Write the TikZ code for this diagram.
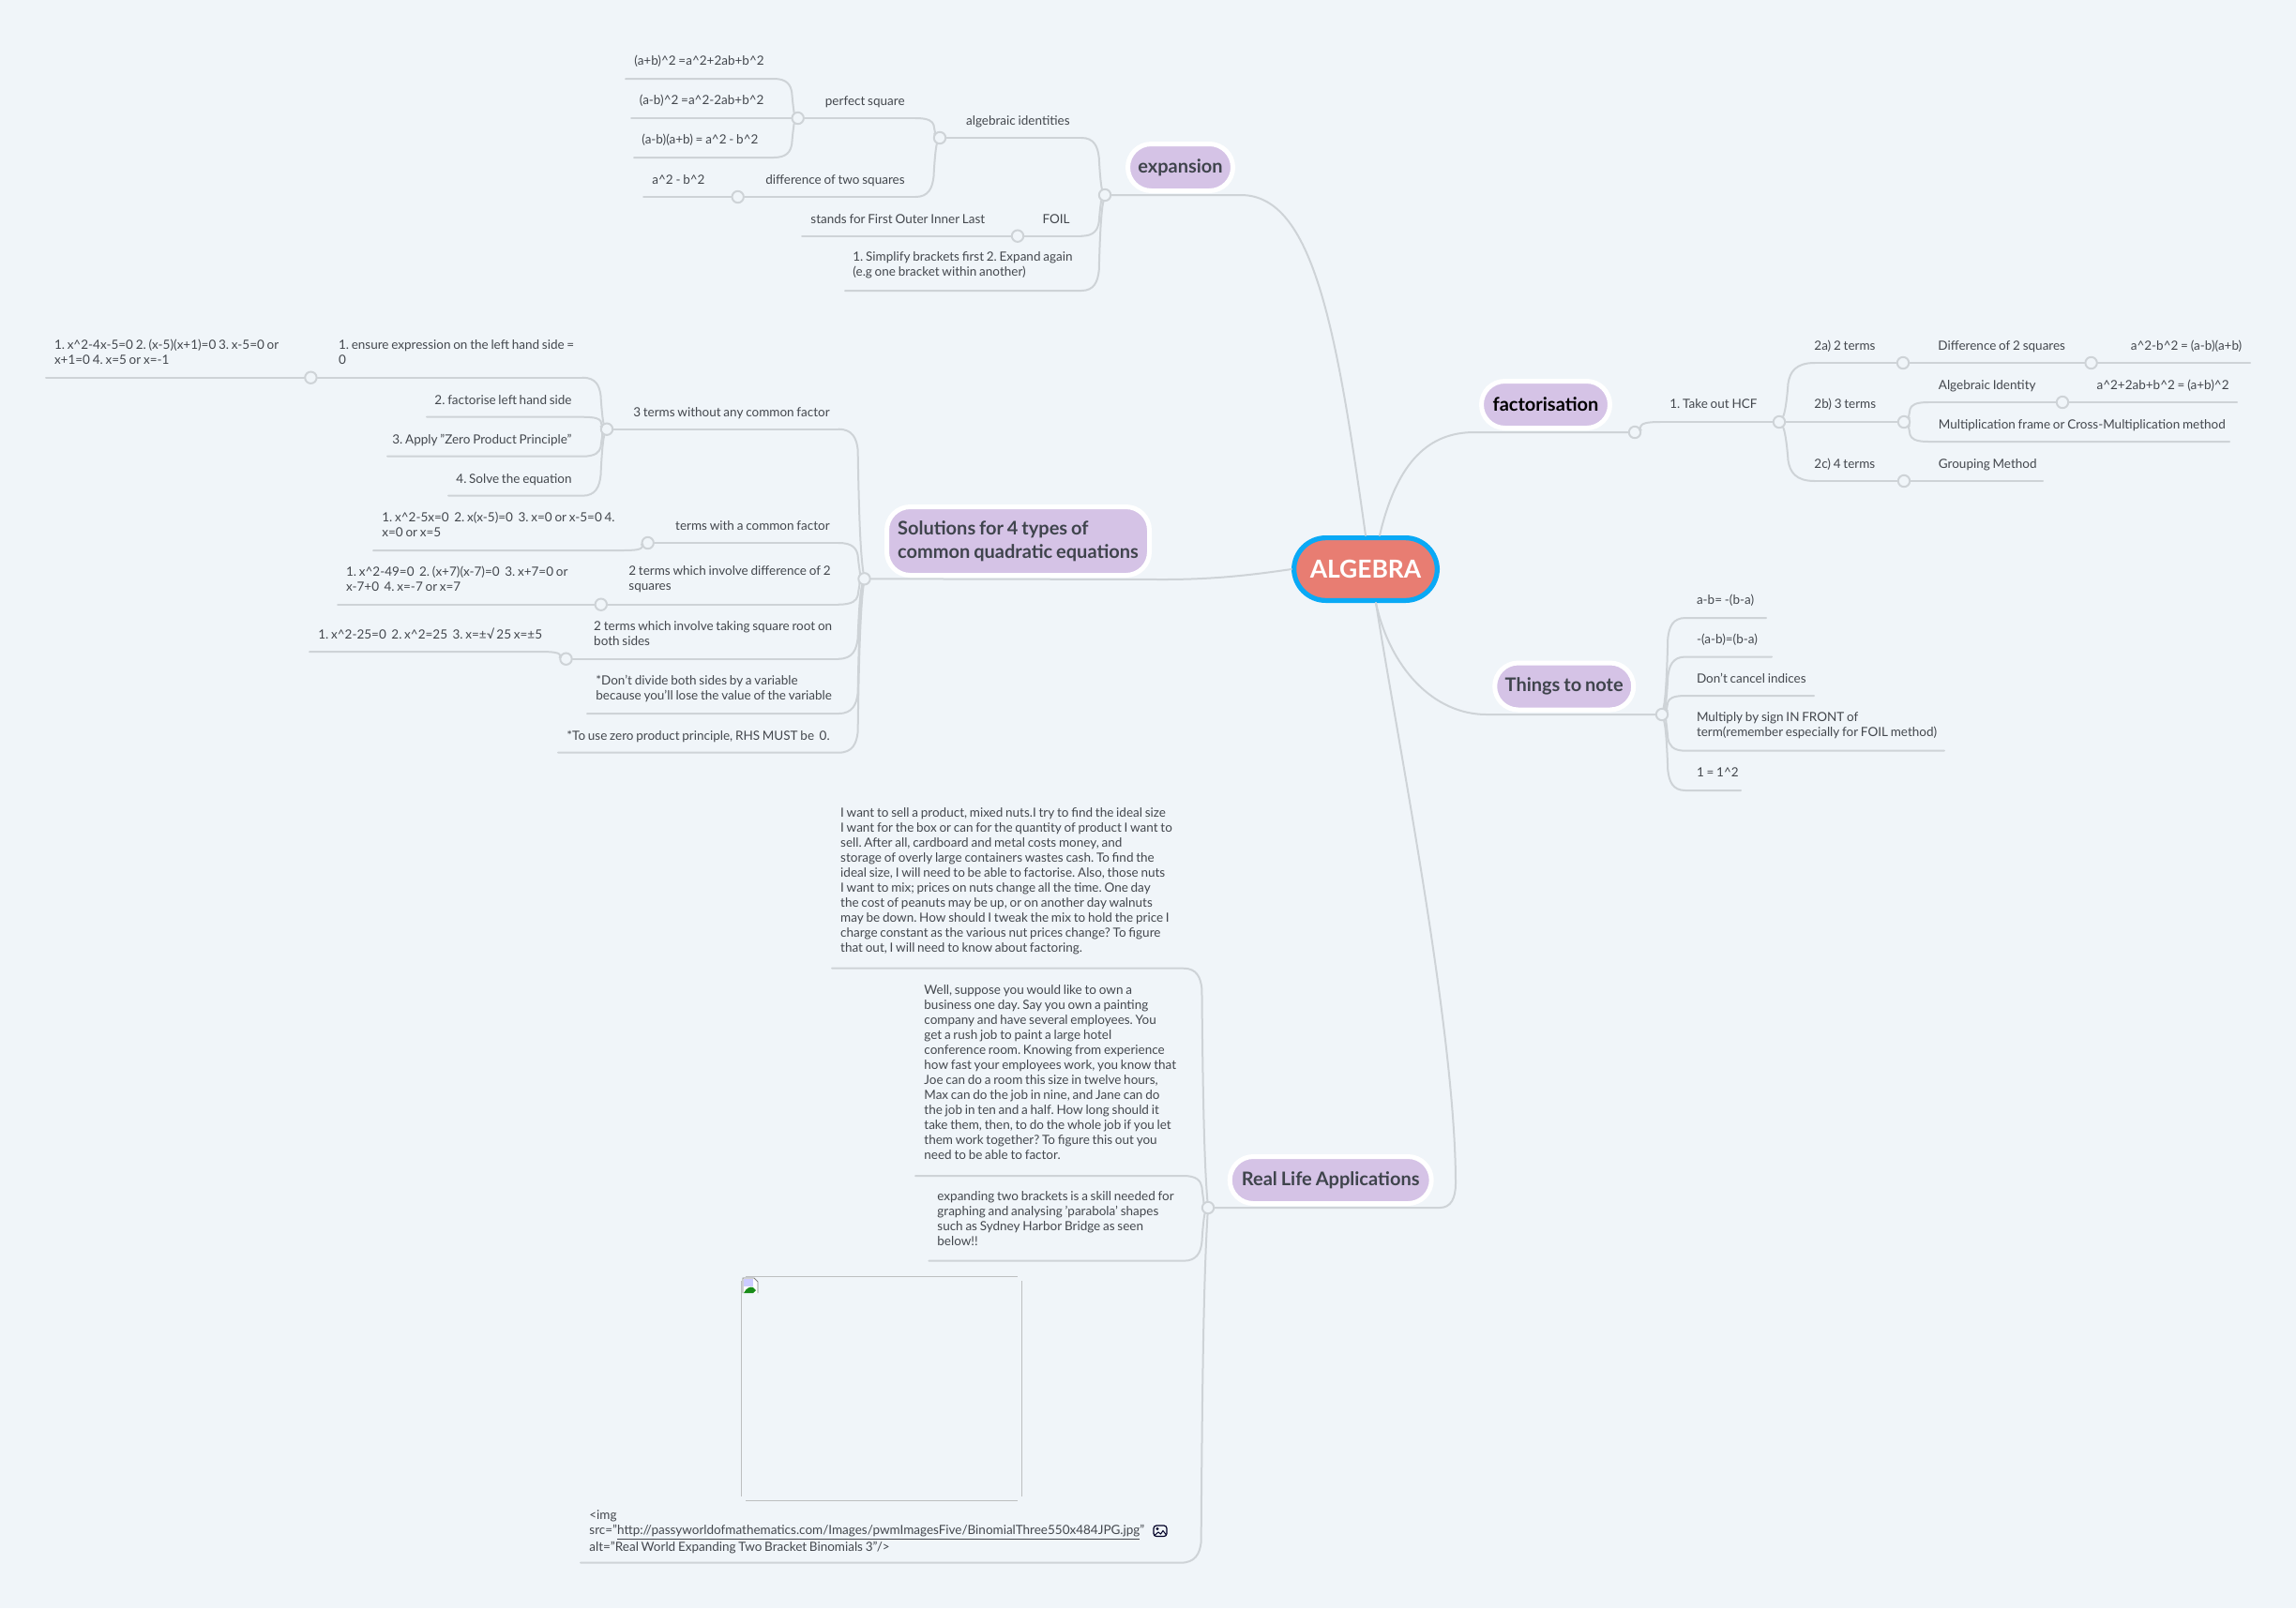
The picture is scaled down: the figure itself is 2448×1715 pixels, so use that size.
\documentclass[tikz,border=0pt]{standalone}
\usepackage{fontspec}
\setmainfont{Lato}[WordSpace=0.8]
\AtBeginDocument{\frenchspacing}
\definecolor{bgc}{HTML}{F0F5F9}
\definecolor{linec}{HTML}{CED3D7}
\definecolor{txtc}{HTML}{43474D}
\definecolor{headc}{HTML}{3F444C}
\definecolor{purp}{HTML}{D5C3E6}
\definecolor{rootc}{HTML}{E87D72}
\definecolor{rootb}{HTML}{0AA9F5}
\definecolor{framec}{HTML}{BDBFC0}
\tikzset{
  conn/.style={draw=linec,line width=1pt,line cap=round},
  hub/.style={circle,draw=linec,fill=bgc,line width=1pt,inner sep=0pt,minimum size=6.2pt},
  txt/.style={inner sep=0pt,text=txtc,font=\fontsize{6.75}{8}\selectfont,yshift=3.4pt,execute at begin node=\strut},
  tl/.style={txt,anchor=north west,align=left},
  tr/.style={txt,anchor=north east,align=right},
  topic/.style={rectangle,rounded corners=12.5pt,draw=white,fill=purp,line width=2.5pt,inner sep=0pt,text=headc,font=\fontsize{10}{12.3}\selectfont\bfseries},
  rootn/.style={rectangle,rounded corners=17pt,draw=rootb,fill=rootc,line width=2.6pt,inner sep=0pt,text=white,font=\fontsize{13.2}{16}\selectfont\bfseries}
}
% \bra{free end}{x}{y}{x of bend}{hub}{hub x}{hub y}
\newcommand{\bra}[7]{%
  \coordinate (#1) at (#2,#3);
  \pgfmathsetmacro{\dxx}{#6-#4}
  \pgfmathsetmacro{\dyy}{#7-#3}
  \pgfmathsetmacro{\rr}{(\dyy>0?1:-1)*min(22,abs(\dyy)*.35)}
  \draw[conn] (#1) -- (#4,#3) .. controls ({#4+.55*\dxx},#3) and ({#4+.70*\dxx},{#3+.45*\rr}) .. ({#4+.75*\dxx},{#3+\rr}) .. controls ({#4+.79*\dxx},{#3+\rr+.5*(\dyy-\rr)}) and ({#4+.85*\dxx},{#3+\rr+.8*(\dyy-\rr)}) .. (#5);
}
% \leaf{free end}{x}{y}{hub}
\newcommand{\leaf}[4]{\coordinate (#1) at (#2,#3); \draw[conn] (#1) -- (#4);}
\begin{document}
\begin{tikzpicture}[x=0.5pt,y=-0.5pt]
\useasboundingbox (0,0) rectangle (2448,1715);
\fill[bgc] (0,0) rectangle (2448,1715);

% hubs
\node[hub] (hexp) at (1178,208) {};
\node[hub] (halg) at (1002,147) {};
\node[hub] (hper) at (850.7,126) {};
\node[hub] (hdif) at (786.7,210) {};
\node[hub] (hfoi) at (1085,251.7) {};
\node[hub] (hfac) at (1743,461) {};
\node[hub] (hhcf) at (1897,450) {};
\node[hub] (h2a) at (2029,387) {};
\node[hub] (hds) at (2229.6,387) {};
\node[hub] (h2b) at (2030,450) {};
\node[hub] (hai) at (2199,429) {};
\node[hub] (h2c) at (2030,513) {};
\node[hub] (hthi) at (1772,762) {};
\node[hub] (hsol) at (921.5,617.3) {};
\node[hub] (h3t) at (647,457.7) {};
\node[hub] (hens) at (331.4,402.7) {};
\node[hub] (hcom) at (690.7,579) {};
\node[hub] (hd2) at (640.8,644.7) {};
\node[hub] (hsq) at (603.5,702.7) {};
\node[hub] (hrea) at (1288,1288) {};

\node[rootn,minimum width=76.4pt,minimum height=33.4pt] (root) at (1456,607) {ALGEBRA};

% root branches
\draw[conn] (hexp) -- (1323,208) .. controls (1400,208) and (1425,350) .. (root.north);
\draw[conn] (hfac) -- (1572,461) .. controls (1525,461) and (1490,490) .. ([xshift=7.5pt]root.north);
\draw[conn] (hthi) -- (1585,762) .. controls (1528,762) and (1482,712) .. ([xshift=5.5pt]root.south);
\draw[conn] (hsol) -- (1240,618) .. controls (1290,618) and (1330,614) .. (root.west);
\draw[conn] (hrea) -- (1535,1288) .. controls (1547,1288) and (1552,1278) .. (1552,1262) .. controls (1552,1100) and (1490,790) .. ([xshift=5.5pt]root.south);

% topics
\node[topic,minimum width=56pt,minimum height=25pt] (nexp) at (1258.5,178.5) {expansion};
\node[topic,minimum width=68.5pt,minimum height=25pt,text=black] (nfac) at (1648,431.5) {factorisation};
\node[topic,minimum width=74pt,minimum height=25pt] (nthi) at (1667.7,732) {Things to note};
\node[topic,minimum width=107.5pt,minimum height=25pt] (nrea) at (1418.7,1258.5) {Real Life Applications};
\node[topic,minimum width=140pt,minimum height=36.5pt,align=left] (nsol) at (1085.5,577) {Solutions for 4 types of\\common quadratic equations};

% expansion branches
\bra{e1}{667}{84}{825}{hper}{850.7}{126}
\leaf{e2}{673}{126}{hper}
\bra{e3}{676}{168}{825}{hper}{850.7}{126}
\bra{e4}{976}{126}{976}{halg}{1002}{147}
\draw[conn] (hper) -- (e4);
\leaf{e5}{686}{210}{hdif}
\bra{e6}{976}{210}{976}{halg}{1002}{147}
\draw[conn] (hdif) -- (e6);
\bra{e7}{1153}{147}{1153}{hexp}{1178}{208}
\draw[conn] (halg) -- (e7);
\leaf{e8}{855}{251.7}{hfoi}
\bra{e9}{1153}{251.7}{1153}{hexp}{1178}{208}
\draw[conn] (hfoi) -- (e9);
\bra{e10}{901}{310}{1153}{hexp}{1178}{208}

\node[tl] (t1) at (676,65) {(a+b)\^{}2 =a\^{}2+2ab+b\^{}2};
\node[tl] (t2) at (681.5,107) {(a-b)\^{}2 =a\^{}2-2ab+b\^{}2};
\node[tl] (t3) at (684,149) {(a-b)(a+b) = a\^{}2 - b\^{}2};
\node[tr] (t4) at (965,107.7) {perfect square};
\node[tr] (t5) at (1141,128.7) {algebraic identities};
\node[tl] (t6) at (695,191.3) {a\^{}2 - b\^{}2};
\node[tr] (t7) at (965,191.3) {difference of two squares};
\node[tl] (t8) at (864,233.3) {stands for First Outer Inner Last};
\node[tr] (t9) at (1141,233.3) {FOIL};
\node[tl] (t10) at (909,275.3) {1. Simplify brackets first 2. Expand again\\(e.g one bracket within another)};

% factorisation branches
\bra{f1}{1770}{450}{1770}{hfac}{1743}{461}
\draw[conn] (hhcf) -- (f1);
\bra{f2}{1935}{387}{1935}{hhcf}{1897}{450}
\draw[conn] (h2a) -- (f2);
\draw[conn] (h2a) -- (hds);
\leaf{f3}{2399}{387}{hds}
\draw[conn] (hhcf) -- (h2b);
\bra{f4}{2056}{429}{2056}{h2b}{2030}{450}
\draw[conn] (hai) -- (f4);
\leaf{f5}{2385}{429}{hai}
\bra{f6}{2377}{471}{2056}{h2b}{2030}{450}
\bra{f7}{1935}{513}{1935}{hhcf}{1897}{450}
\draw[conn] (h2c) -- (f7);
\leaf{f8}{2178}{513}{h2c}

\node[tl] (t11) at (1780,431) {1. Take out HCF};
\node[tl] (t12) at (1934,368.6) {2a) 2 terms};
\node[tl] (t13) at (2066,368.6) {Difference of 2 squares};
\node[tr] (t14) at (2390.7,368.6) {a\^{}2-b\^{}2 = (a-b)(a+b)};
\node[tl] (t15) at (1934,431) {2b) 3 terms};
\node[tl] (t16) at (2066.5,410.6) {Algebraic Identity};
\node[tr] (t17) at (2377,410.6) {a\^{}2+2ab+b\^{}2 = (a+b)\^{}2};
\node[tl] (t18) at (2066.5,452.6) {Multiplication frame or Cross-Multiplication method};
\node[tl] (t19) at (1934,494.6) {2c) 4 terms};
\node[tl] (t20) at (2066.5,494.6) {Grouping Method};

% things to note
\bra{n1}{1883}{659}{1797}{hthi}{1772}{762}
\bra{n2}{1889}{700.5}{1797}{hthi}{1772}{762}
\bra{n3}{1934}{742}{1797}{hthi}{1772}{762}
\bra{n4}{2073}{800.7}{1797}{hthi}{1772}{762}
\bra{n5}{1856}{843}{1797}{hthi}{1772}{762}

\node[tl] (t21) at (1808.6,640) {a-b= -(b-a)};
\node[tl] (t22) at (1808.6,682) {-(a-b)=(b-a)};
\node[tl] (t23) at (1808.6,724) {Don't cancel indices};
\node[tl] (t24) at (1808.6,766) {Multiply by sign IN FRONT of\\term(remember especially for FOIL method)};
\node[tl] (t25) at (1808.6,824) {1 = 1\^{}2};

% solutions
\leaf{s0}{49}{402.7}{hens}
\bra{s1}{621}{402.7}{621}{h3t}{647}{457.7}
\draw[conn] (hens) -- (s1);
\bra{s2}{455}{444.7}{621}{h3t}{647}{457.7}
\bra{s3}{413}{486.7}{621}{h3t}{647}{457.7}
\bra{s4}{478}{528.7}{621}{h3t}{647}{457.7}
\bra{s5}{894}{457.7}{894}{hsol}{921.5}{617.3}
\draw[conn] (h3t) -- (s5);
\bra{s6}{398}{587}{664}{hcom}{690.7}{579}
\bra{s7}{894}{579}{894}{hsol}{921.5}{617.3}
\draw[conn] (hcom) -- (s7);
\leaf{s8}{360}{644.7}{hd2}
\bra{s9}{894}{644.7}{894}{hsol}{921.5}{617.3}
\draw[conn] (hd2) -- (s9);
\bra{s10}{330}{695}{575}{hsq}{603.5}{702.7}
\bra{s11}{894}{702.7}{894}{hsol}{921.5}{617.3}
\draw[conn] (hsq) -- (s11);
\bra{s12}{626}{761}{894}{hsol}{921.5}{617.3}
\bra{s13}{595}{802.7}{894}{hsol}{921.5}{617.3}

\node[tl] (t26) at (57.6,368.7) {1. x\^{}2-4x-5=0 2. (x-5)(x+1)=0 3. x-5=0 or\\x+1=0 4. x=5 or x=-1};
\node[tl] (t27) at (360.6,368.7) {1. ensure expression on the left hand side =\\0};
\node[tr] (t28) at (610,426.3) {2. factorise left hand side};
\node[tr] (t29) at (610,468.3) {3. Apply "Zero Product Principle"};
\node[tr] (t30) at (610,510.3) {4. Solve the equation};
\node[tr] (t31) at (885,439.7) {3 terms without any common factor};
\node[tl] (t32) at (407,552.3) {1. x\^{}2-5x=0\ \ 2. x(x-5)=0\ \ 3. x=0 or x-5=0 4.\\x=0 or x=5};
\node[tr] (t33) at (885,560.7) {terms with a common factor};
\node[tl] (t34) at (368.7,610.3) {1. x\^{}2-49=0\ \ 2. (x+7)(x-7)=0\ \ 3. x+7=0 or\\x-7+0\ \ 4. x=-7 or x=7};
\node[tl] (t35) at (670,610.3) {2 terms which involve difference of 2\\squares};
\node[tl] (t36) at (339,676.7) {1. x\^{}2-25=0\ \ 2. x\^{}2=25\ \ 3. x=±√\,25 x=±5};
\node[tl] (t37) at (632.8,668.7) {2 terms which involve taking square root on\\both sides};
\node[tl] (t38) at (635,726.7) {*Don't divide both sides by a variable\\because you'll lose the value of the variable};
\node[tr] (t39) at (885,784.7) {*To use zero product principle, RHS MUST be\ \ 0.};

% real life
\bra{r1}{887}{1032.7}{1261.7}{hrea}{1288}{1288}
\bra{r2}{976}{1254}{1261.7}{hrea}{1288}{1288}
\bra{r3}{990.4}{1344.7}{1261.7}{hrea}{1288}{1288}
\bra{r4}{619}{1666.7}{1258.5}{hrea}{1288}{1288}

\node[tl] (t40) at (895.8,868.3) {I want to sell a product, mixed nuts.I try to find the ideal size\\I want for the box or can for the quantity of product I want to\\sell. After all, cardboard and metal costs money, and\\storage of overly large containers wastes cash. To find the\\ideal size, I will need to be able to factorise. Also, those nuts\\I want to mix; prices on nuts change all the time. One day\\the cost of peanuts may be up, or on another day walnuts\\may be down. How should I tweak the mix to hold the price I\\charge constant as the various nut prices change? To figure\\that out, I will need to know about factoring.};
\node[tl] (t41) at (985,1056.7) {Well, suppose you would like to own a\\business one day. Say you own a painting\\company and have several employees. You\\get a rush job to paint a large hotel\\conference room. Knowing from experience\\how fast your employees work, you know that\\Joe can do a room this size in twelve hours,\\Max can do the job in nine, and Jane can do\\the job in ten and a half. How long should it\\take them, then, to do the whole job if you let\\them work together? To figure this out you\\need to be able to factor.};
\node[tl] (t42) at (999,1277.3) {expanding two brackets is a skill needed for\\graphing and analysing 'parabola' shapes\\such as Sydney Harbor Bridge as seen\\below!!};
\node[tl] (t43) at (628,1616.7) {<img\\src="\underline{http://passyworldofmathematics.com/Images/pwmImagesFive/BinomialThree550x484JPG.jpg}"\\alt="Real World Expanding Two Bracket Binomials 3"/>};

% empty image frame
\draw[framec,line width=0.6pt] (795,1361.3) -- (1085,1361.3);
\draw[framec,line width=0.6pt] (795,1600.3) -- (1085,1600.3);
\draw[framec,line width=0.6pt] (790.6,1366) -- (790.6,1596);
\draw[framec,line width=0.6pt] (1089.7,1366) -- (1089.7,1596);
% broken image icon
\fill[white] (792,1363) -- (804,1363) -- (808,1367) -- (808,1379) -- (792,1379) -- cycle;
\fill[blue!20!white] (793,1364) rectangle (803,1372);
\fill[green!50!black!90!white] (793,1379) .. controls (796,1373) and (800,1372) .. (803,1373) -- (806,1376) -- (803,1379) -- cycle;
\draw[gray,line width=0.4pt] (792,1379) -- (792,1363) -- (804,1363) -- (808,1367) -- (808,1379);
% picture icon
\draw[black!85!blue,line width=0.6pt,rounded corners=1.5pt] (1230,1627) rectangle (1244,1638.5);
\fill[black!85!blue] (1234,1630.5) circle (0.8pt);
\draw[black!85!blue,line width=0.5pt] (1231,1637.5) -- (1235,1634) -- (1237.5,1636) -- (1240,1632.5) -- (1243.5,1637);
\end{tikzpicture}
\end{document}
